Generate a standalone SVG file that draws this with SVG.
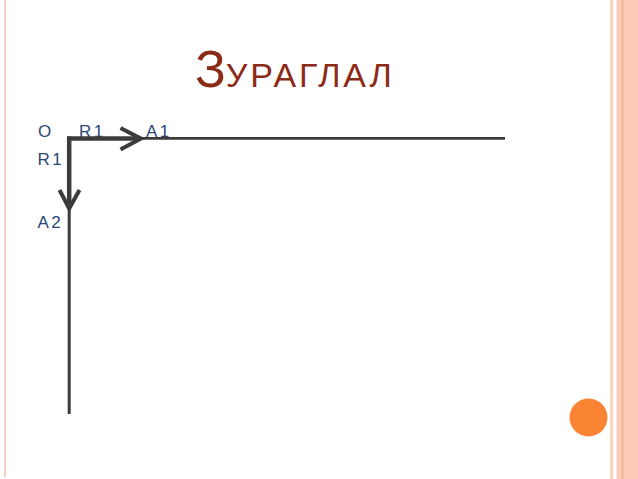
<svg xmlns="http://www.w3.org/2000/svg" width="638" height="479" viewBox="0 0 638 479">
<style>
.lbl{font-family:"Liberation Sans",Arial,sans-serif;font-size:17px;letter-spacing:2.5px;fill:#2a4778}
.title{font-family:"Liberation Sans",Arial,sans-serif;fill:#8c2a18}
.ln{stroke:#3b3b3b;fill:none;stroke-linecap:butt}
</style>
<rect width="638" height="479" fill="#ffffff"/>
<g id="border">
<line x1="5" y1="0" x2="5" y2="477" stroke="#f3c3ad" stroke-width="1.6"/>
<rect x="610" y="0" width="3.2" height="479" fill="#fbd3c4"/>
<rect x="616.5" y="0" width="21.5" height="479" fill="#fdcbb9"/>
<line x1="622.5" y1="0" x2="622.5" y2="479" stroke="#f3a98a" stroke-width="1.5"/>
</g>
<g id="title">
<text class="title" x="195" y="86.5"><tspan font-size="51">З</tspan><tspan font-size="34" letter-spacing="2.8">УРАГЛАЛ</tspan></text>
</g>
<g id="labels">
<text class="lbl" x="38" y="136.5">O</text>
<text class="lbl" x="79" y="136.5">R1</text>
<text class="lbl" x="146" y="136.5">A1</text>
<text class="lbl" x="37.5" y="165">R1</text>
<text class="lbl" x="37.5" y="228">A2</text>
</g>
<g id="connectors">
<line class="ln" x1="141" y1="138.3" x2="505" y2="138.3" stroke-width="2.8"/>
<line class="ln" x1="69.2" y1="208" x2="69.2" y2="414" stroke-width="3"/>
<path class="ln" d="M67 138.6 H140" stroke-width="4.5"/>
<path class="ln" d="M69.2 136.5 V207" stroke-width="4.5"/>
<path class="ln" d="M120.5 128 L141 138.6 L120.5 149.5" stroke-width="4" stroke-linejoin="miter"/>
<path class="ln" d="M59.5 190 L69.2 208.5 L79.5 190" stroke-width="4" stroke-linejoin="miter"/>
</g>
<g id="dot">
<circle cx="588.5" cy="417.5" r="19" fill="#fa8433"/>
</g>
</svg>
